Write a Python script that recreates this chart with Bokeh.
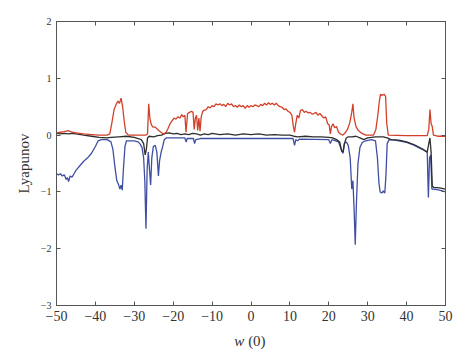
from bokeh.plotting import figure
from bokeh.models import LinearAxis, FixedTicker, Range1d, Div
from bokeh.layouts import column
from bokeh.embed import file_html
from bokeh.resources import INLINE

# --- data ---
x_red = [-50, -49, -48, -47, -46, -45, -43, -41, -39, -37, -36.3, -35.8, -35.2, -34.6, -34.2, -33.8, -33.4,
         -33.0, -32.6, -32.2, -31.5, -29, -27, -26.6, -26.3, -26.0, -25.6, -25.2, -24.6, -24, -23.3, -22.5,
         -21.8, -21.3, -20.8, -20.3, -19.8, -19.3, -18.8, -18.3, -17.8, -17.4, -17.0, -16.7, -16.3, -15.8,
         -15.3, -14.9, -14.6, -14.3, -14.0, -13.7, -13.4, -13.1, -12.8, -12.4, -12.0, -11.5, -11, -10.5, -10,
         -9.5, -9, -8.5, -8, -7.5, -7, -6.5, -6, -5.5, -5, -4.5, -4, -3.5, -3, -2.5, -2, -1.5, -1, -0.5, 0,
         0.5, 1, 1.5, 2, 2.5, 3, 3.5, 4, 4.5, 5, 5.5, 6, 6.5, 7, 7.5, 8, 8.5, 9, 9.5, 10, 10.5, 10.9, 11.2,
         11.5, 11.9, 12.3, 12.7, 13.2, 13.7, 14.2, 14.7, 15.2, 15.7, 16.2, 16.7, 17.2, 17.7, 18.2, 18.7, 19.2,
         19.7, 20.1, 20.4, 20.7, 21.1, 21.5, 22, 22.5, 23, 23.6, 24.2, 24.8, 25.4, 25.9, 26.2, 26.5, 27, 27.6,
         28.5, 29.5, 31.5, 32.1, 32.6, 33.0, 33.3, 33.8, 34.2, 34.6, 34.9, 35.3, 40, 45.3, 45.7, 46.0, 46.3,
         46.6, 46.9, 48, 50]
y_red = [0.04, 0.05, 0.06, 0.08, 0.05, 0.04, 0.02, 0.01, 0.0, 0.0, 0.02, 0.2, 0.45, 0.55, 0.6, 0.56, 0.65,
         0.5, 0.25, 0.05, 0.0, 0.0, 0.0, 0.02, 0.55, 0.3, 0.18, 0.14, 0.14, 0.1, 0.06, 0.02,
         0.05, 0.12, 0.2, 0.25, 0.3, 0.28, 0.32, 0.3, 0.36, 0.32, 0.35, 0.05, 0.38, 0.4,
         0.42, 0.4, 0.1, 0.3, 0.35, 0.08, 0.3, 0.07, 0.32, 0.42, 0.44, 0.45, 0.5, 0.48, 0.52,
         0.5, 0.55, 0.53, 0.55, 0.52, 0.54, 0.5, 0.56, 0.53, 0.55, 0.5, 0.52, 0.49, 0.53, 0.5, 0.52, 0.47, 0.52, 0.49, 0.52,
         0.5, 0.53, 0.52, 0.5, 0.54, 0.52, 0.56, 0.53, 0.57, 0.54, 0.56, 0.53, 0.56, 0.52, 0.5, 0.49, 0.45, 0.46, 0.42, 0.4, 0.35, 0.15, 0.05,
         0.2, 0.35, 0.3, 0.43, 0.45, 0.4, 0.42, 0.39, 0.4, 0.37, 0.38, 0.4, 0.35, 0.38, 0.34, 0.3, 0.32,
         0.2, 0.18, 0.02, 0.15, 0.2, 0.13, 0.15, 0.05, 0.02, 0.0, 0.04, 0.1, 0.22, 0.4, 0.55, 0.3, 0.15, 0.08,
         0.03, 0.0, 0.0, 0.1, 0.35, 0.6, 0.72, 0.7, 0.72, 0.68, 0.2, 0.0, -0.01, -0.01, 0.1, 0.45, 0.2,
         0.15, 0.0, -0.02, -0.02]

x_black = [-50, -49, -48, -47, -46, -45, -43, -41, -39, -37, -36, -34, -32, -30, -29, -28.2, -27.6, -27.2,
           -26.9, -26.6, -26.2, -25, -24, -23, -22, -21, -20, -19, -18, -17, -16, -15, -14, -13, -12, -11,
           -10, -8, -6, -4, -2, 0, 2, 4, 6, 8, 10, 11, 12, 14, 16, 18, 20, 21, 22, 22.8, 23.3, 23.7, 24,
           24.5, 25, 26, 27, 28, 29, 30, 32, 34, 35, 36, 38, 40, 42, 44, 45.3, 45.7, 46.0, 46.3, 46.6, 47,
           48.5, 50]
y_black = [0.03, 0.02, 0.03, 0.02, 0.03, 0.02, 0.0, -0.02, -0.04, -0.05, -0.04, -0.03, -0.02, -0.04, -0.06,
           -0.08, -0.15, -0.35, -0.25, -0.05, -0.02, -0.03, -0.01, 0.0, 0.03, 0.04, 0.02, 0.03, 0.01, 0.02,
           0.01, 0.03, 0.02, 0.0, 0.02, 0.01, 0.03, 0.01, 0.02, 0.0, 0.02, 0.01, 0.02, 0.0, 0.01, 0.0, 0.0,
           -0.02, -0.03, -0.02, -0.03, -0.03, -0.04, -0.05, -0.08, -0.12, -0.28, -0.3, -0.15, -0.05, -0.03,
           -0.03, -0.02, -0.05, -0.08, -0.05, -0.03, -0.03, -0.05, -0.08, -0.09, -0.12, -0.17, -0.24, -0.3,
           -0.15, -0.05, -0.3, -0.9, -0.92, -0.93, -0.95]

x_blue = [-50, -49.5, -49, -48.5, -48, -47.5, -47.2, -46.9, -46.5, -46, -45.5, -45, -44, -43, -42, -41, -40,
          -39.3, -38.5, -37, -36, -35.5, -35, -34.5, -34, -33.7, -33.4, -33.1, -32.8, -32.4, -32, -30, -29,
          -28.5, -28, -27.6, -27.3, -27.0, -26.7, -26.4, -26.1, -25.8, -25.5, -25.1, -24.6, -24.2, -23.8,
          -23.5, -23.1, -22.7, -22.3, -21.8, -17, -16.7, -16.4, -14.8, -14.5, -14.2, -13, -5, 5, 10.8, 11.2,
          11.5, 12, 12.5, 20, 20.4, 20.8, 21.8, 22.5, 23.2, 23.6, 24.0, 24.5, 25.0, 25.5, 25.9, 26.2, 26.5,
          26.8, 27.1, 27.5, 28, 28.6, 29.5, 31, 32, 32.5, 32.9, 33.2, 33.6, 34.0, 34.4, 34.7, 35.0, 35.5, 37,
          40, 42, 44, 45.3, 45.6, 45.9, 46.2, 46.5, 47, 48.5, 50]
y_blue = [-0.68, -0.7, -0.68, -0.72, -0.7, -0.78, -0.75, -0.82, -0.72, -0.74, -0.68, -0.62, -0.54, -0.46,
          -0.4, -0.32, -0.2, -0.1, -0.08, -0.08, -0.12, -0.25, -0.55, -0.8, -0.88, -0.95, -0.88, -0.97, -0.6,
          -0.2, -0.1, -0.1, -0.12, -0.16, -0.22, -0.4, -0.8, -1.65, -0.6, -0.3, -0.6, -0.88, -0.4, -0.2,
          -0.18, -0.3, -0.72, -0.45, -0.3, -0.2, -0.08, -0.05, -0.05, -0.12, -0.06, -0.06, -0.15, -0.08,
          -0.06, -0.06, -0.06, -0.06, -0.18, -0.08, -0.1, -0.07, -0.08, -0.15, -0.08, -0.1, -0.12, -0.25,
          -0.32, -0.15, -0.12, -0.18, -0.4, -0.95, -0.8, -1.3, -1.93, -1.2, -0.5, -0.22, -0.13, -0.1, -0.08,
          -0.1, -0.4, -0.85, -1.0, -1.02, -0.98, -1.02, -0.7, -0.15, -0.08, -0.09, -0.13, -0.18, -0.25, -0.3,
          -1.1, -0.4, -0.35, -0.95, -0.95, -0.97, -1.0]

x_ticks = [-50, -40, -30, -20, -10, 0, 10, 20, 30, 40, 50]
y_ticks = [-3, -2, -1, 0, 1, 2]

SERIF = "Liberation Serif"
AX = "#555555"
W, H = 470, 330
FL, FR, FT, FB = 56, 445, 21, 305  # frame edges on the page

p = figure(width=W, height=H, output_backend="svg", toolbar_location=None,
           x_range=Range1d(-50, 50), y_range=Range1d(-3, 2),
           min_border_left=FL, min_border_right=W - FR, min_border_top=FT, min_border_bottom=H - FB)
p.background_fill_color = "white"
p.border_fill_color = "white"
p.outline_line_color = AX
p.grid.visible = False

p.line(x_blue, y_blue, line_color="#3f4ea3", line_width=1.3)
p.line(x_black, y_black, line_color="#2e2e2e", line_width=1.3)
p.line(x_red, y_red, line_color="#d2402a", line_width=1.3)


def minus(v):
    return str(v).replace("-", "\u2212")


def style(ax, ticks, size, show):
    ax.ticker = FixedTicker(ticks=ticks)
    ax.minor_tick_line_color = None
    ax.major_tick_in = 4
    ax.major_tick_out = 0
    ax.axis_line_color = AX
    ax.major_tick_line_color = AX
    ax.major_label_text_font = SERIF
    ax.major_label_text_font_size = size
    ax.major_label_text_color = "#333333"
    ax.major_label_overrides = {t: minus(t) for t in ticks}
    if not show:
        ax.major_label_text_alpha = 0
        ax.major_label_text_font_size = "1px"
        ax.major_label_standoff = 0


style(p.xaxis[0], x_ticks, "14px", True)
p.xaxis[0].major_label_standoff = 5
style(p.yaxis[0], y_ticks, "10px", True)
p.yaxis[0].major_label_standoff = 5
p.yaxis[0].axis_label = "Lyapunov"
p.yaxis[0].axis_label_text_font = SERIF
p.yaxis[0].axis_label_text_font_size = "15px"
p.yaxis[0].axis_label_text_font_style = "normal"
p.yaxis[0].axis_label_text_color = "#333333"
p.yaxis[0].axis_label_standoff = 6

top = LinearAxis()
style(top, x_ticks, "14px", False)
p.add_layout(top, "above")
right = LinearAxis()
style(right, y_ticks, "10px", False)
p.add_layout(right, "right")

# x-axis title below the plot: italic "w" followed by upright "(0)"
center = (FL + FR) / 2
title_w = 120
xtitle = Div(text="<i>w</i> (0)", width=title_w, height=26,
             margin=(1, 0, 0, int(center - title_w / 2)),
             styles={"font-family": SERIF, "font-size": "15px", "color": "#333333",
                     "text-align": "center", "width": f"{title_w}px"})

layout = column(p, xtitle, spacing=0)
open("out.html", "w").write(file_html(layout, INLINE))
